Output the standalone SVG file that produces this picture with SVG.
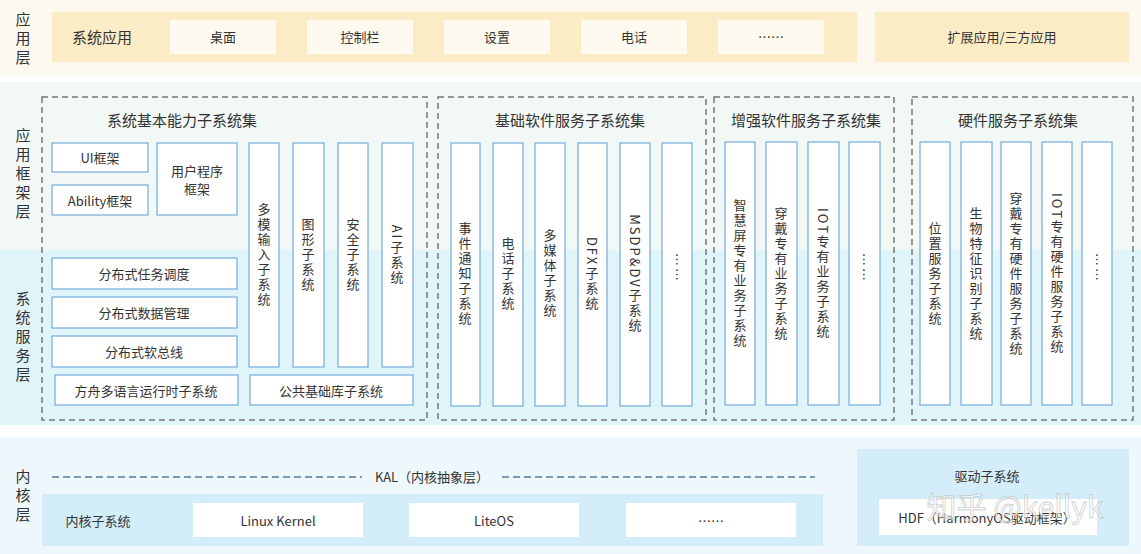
<svg xmlns="http://www.w3.org/2000/svg" width="1141" height="554" viewBox="0 0 1141 554">
<style>
text{font-family:"Noto Sans CJK SC","Liberation Sans",sans-serif;fill:#333;font-size:13px;text-anchor:middle;dominant-baseline:central}
.t{font-size:15px}
.b{fill:#fff;stroke:#5b9bd5;stroke-width:1}
.w{fill:#fffaf0;stroke:none}
.d{fill:none;stroke:#777;stroke-width:1.5;stroke-dasharray:6,4}
.v{writing-mode:vertical-rl;letter-spacing:2px}
.l{font-size:15px;writing-mode:vertical-rl;letter-spacing:4px}
</style>
<rect x="0" y="0" width="1141" height="554" fill="#fff"/>
<rect x="0" y="0" width="1141" height="75" fill="#fdf9ef"/>
<rect x="0" y="82" width="1141" height="168" fill="#f1f8f6"/>
<rect x="0" y="250" width="1141" height="175" fill="#e0f5fa"/>
<rect x="0" y="437" width="1141" height="117" fill="#eef8fc"/>
<g id="labels">
<text class="l" x="23" y="40">应用层</text>
<text class="l" x="23" y="175">应用框架层</text>
<text class="l" x="23" y="338">系统服务层</text>
<text class="l" x="23" y="497">内核层</text>
</g>
<g id="app">
<rect x="52" y="12" width="805" height="50" fill="#fbecc6"/>
<text class="t" x="102" y="36">系统应用</text>
<rect class="w" x="170" y="20" width="106" height="34"/><text x="223" y="36">桌面</text>
<rect class="w" x="307" y="20" width="106" height="34"/><text x="360" y="36">控制栏</text>
<rect class="w" x="444" y="20" width="106" height="34"/><text x="497" y="36">设置</text>
<rect class="w" x="581" y="20" width="106" height="34"/><text x="634" y="36">电话</text>
<rect class="w" x="718" y="20" width="106" height="34"/><text x="771" y="36">……</text>
<rect x="875" y="12" width="254" height="50" fill="#fbecc6"/>
<text x="1002" y="36">扩展应用/三方应用</text>
</g>
<g id="box1">
<rect class="d" x="42" y="97" width="385" height="323"/>
<text class="t" x="182" y="119">系统基本能力子系统集</text>
<rect class="b" x="52" y="143" width="96" height="29"/><text x="100" y="157">UI框架</text>
<rect class="b" x="52" y="185" width="96" height="30"/><text x="100" y="200">Ability框架</text>
<rect class="b" x="157" y="143" width="80" height="72"/><text x="197" y="170">用户程序</text><text x="197" y="188">框架</text>
<rect class="b" x="249" y="143" width="30" height="224"/><text class="v" x="264" y="255">多模输入子系统</text>
<rect class="b" x="293" y="143" width="31" height="224"/><text class="v" x="308" y="255">图形子系统</text>
<rect class="b" x="338" y="143" width="30" height="224"/><text class="v" x="353" y="255">安全子系统</text>
<rect class="b" x="382" y="143" width="31" height="224"/><text class="v" x="397" y="255">AI子系统</text>
<rect class="b" x="52" y="258" width="185" height="31"/><text x="144" y="273">分布式任务调度</text>
<rect class="b" x="52" y="297" width="185" height="31"/><text x="144" y="312">分布式数据管理</text>
<rect class="b" x="52" y="336" width="185" height="31"/><text x="144" y="351">分布式软总线</text>
<rect class="b" x="55" y="375" width="183" height="30"/><text x="146" y="390">方舟多语言运行时子系统</text>
<rect class="b" x="250" y="375" width="163" height="30"/><text x="331" y="390">公共基础库子系统</text>
</g>
<g id="box2">
<rect class="d" x="438" y="97" width="268" height="323"/>
<text class="t" x="570" y="119">基础软件服务子系统集</text>
<rect class="b" x="451" y="143" width="29" height="263"/><text class="v" x="465" y="274">事件通知子系统</text>
<rect class="b" x="493" y="143" width="30" height="263"/><text class="v" x="508" y="274">电话子系统</text>
<rect class="b" x="535" y="143" width="30" height="263"/><text class="v" x="550" y="274">多媒体子系统</text>
<rect class="b" x="578" y="143" width="29" height="263"/><text class="v" x="592" y="274">DFX子系统</text>
<rect class="b" x="620" y="143" width="30" height="263"/><text class="v" x="635" y="274">MSDP&amp;DV子系统</text>
<rect class="b" x="662" y="143" width="30" height="263"/><text class="v" x="677" y="268">……</text>
</g>
<g id="box3">
<rect class="d" x="714" y="97" width="180" height="323"/>
<text class="t" x="806" y="119">增强软件服务子系统集</text>
<rect class="b" x="725" y="142" width="30" height="263"/><text class="v" x="740" y="274">智慧屏专有业务子系统</text>
<rect class="b" x="766" y="142" width="31" height="263"/><text class="v" x="781" y="274">穿戴专有业务子系统</text>
<rect class="b" x="808" y="142" width="31" height="263"/><text class="v" x="823" y="274">IOT专有业务子系统</text>
<rect class="b" x="849" y="142" width="31" height="263"/><text class="v" x="864" y="268">……</text>
</g>
<g id="box4">
<rect class="d" x="912" y="97" width="221" height="323"/>
<text class="t" x="1018" y="119">硬件服务子系统集</text>
<rect class="b" x="920" y="142" width="30" height="263"/><text class="v" x="935" y="274">位置服务子系统</text>
<rect class="b" x="961" y="142" width="31" height="263"/><text class="v" x="976" y="274">生物特征识别子系统</text>
<rect class="b" x="1001" y="142" width="30" height="263"/><text class="v" x="1016" y="274">穿戴专有硬件服务子系统</text>
<rect class="b" x="1042" y="142" width="30" height="263"/><text class="v" x="1057" y="274">IOT专有硬件服务子系统</text>
<rect class="b" x="1082" y="142" width="30" height="263"/><text class="v" x="1097" y="268">……</text>
</g>
<g id="kernel">
<line x1="52" y1="477" x2="362" y2="477" stroke="#7a9cb8" stroke-width="2" stroke-dasharray="7,4"/>
<line x1="502" y1="477" x2="815" y2="477" stroke="#7a9cb8" stroke-width="2" stroke-dasharray="7,4"/>
<text x="432" y="476">KAL（内核抽象层）</text>
<rect x="42" y="494" width="781" height="52" fill="#d3eefa"/>
<text x="98" y="520">内核子系统</text>
<rect x="193" y="503" width="170" height="34" fill="#fff"/><text x="278" y="520">Linux Kernel</text>
<rect x="409" y="503" width="170" height="34" fill="#fff"/><text x="494" y="520">LiteOS</text>
<rect x="626" y="503" width="170" height="34" fill="#fff"/><text x="711" y="520">……</text>
</g>
<g id="driver">
<rect x="857" y="449" width="272" height="97" fill="#d3eefa"/>
<text x="987" y="475">驱动子系统</text>
<rect x="879" y="499" width="218" height="36" fill="#fff"/>
<text x="987" y="517">HDF（HarmonyOS驱动框架）</text>
</g>
<text x="1015" y="505" style="font-size:30px;fill:#fff;fill-opacity:0.6;stroke:#aaa;stroke-width:0.8;stroke-opacity:0.6">知乎 @kellyk</text>
</svg>
